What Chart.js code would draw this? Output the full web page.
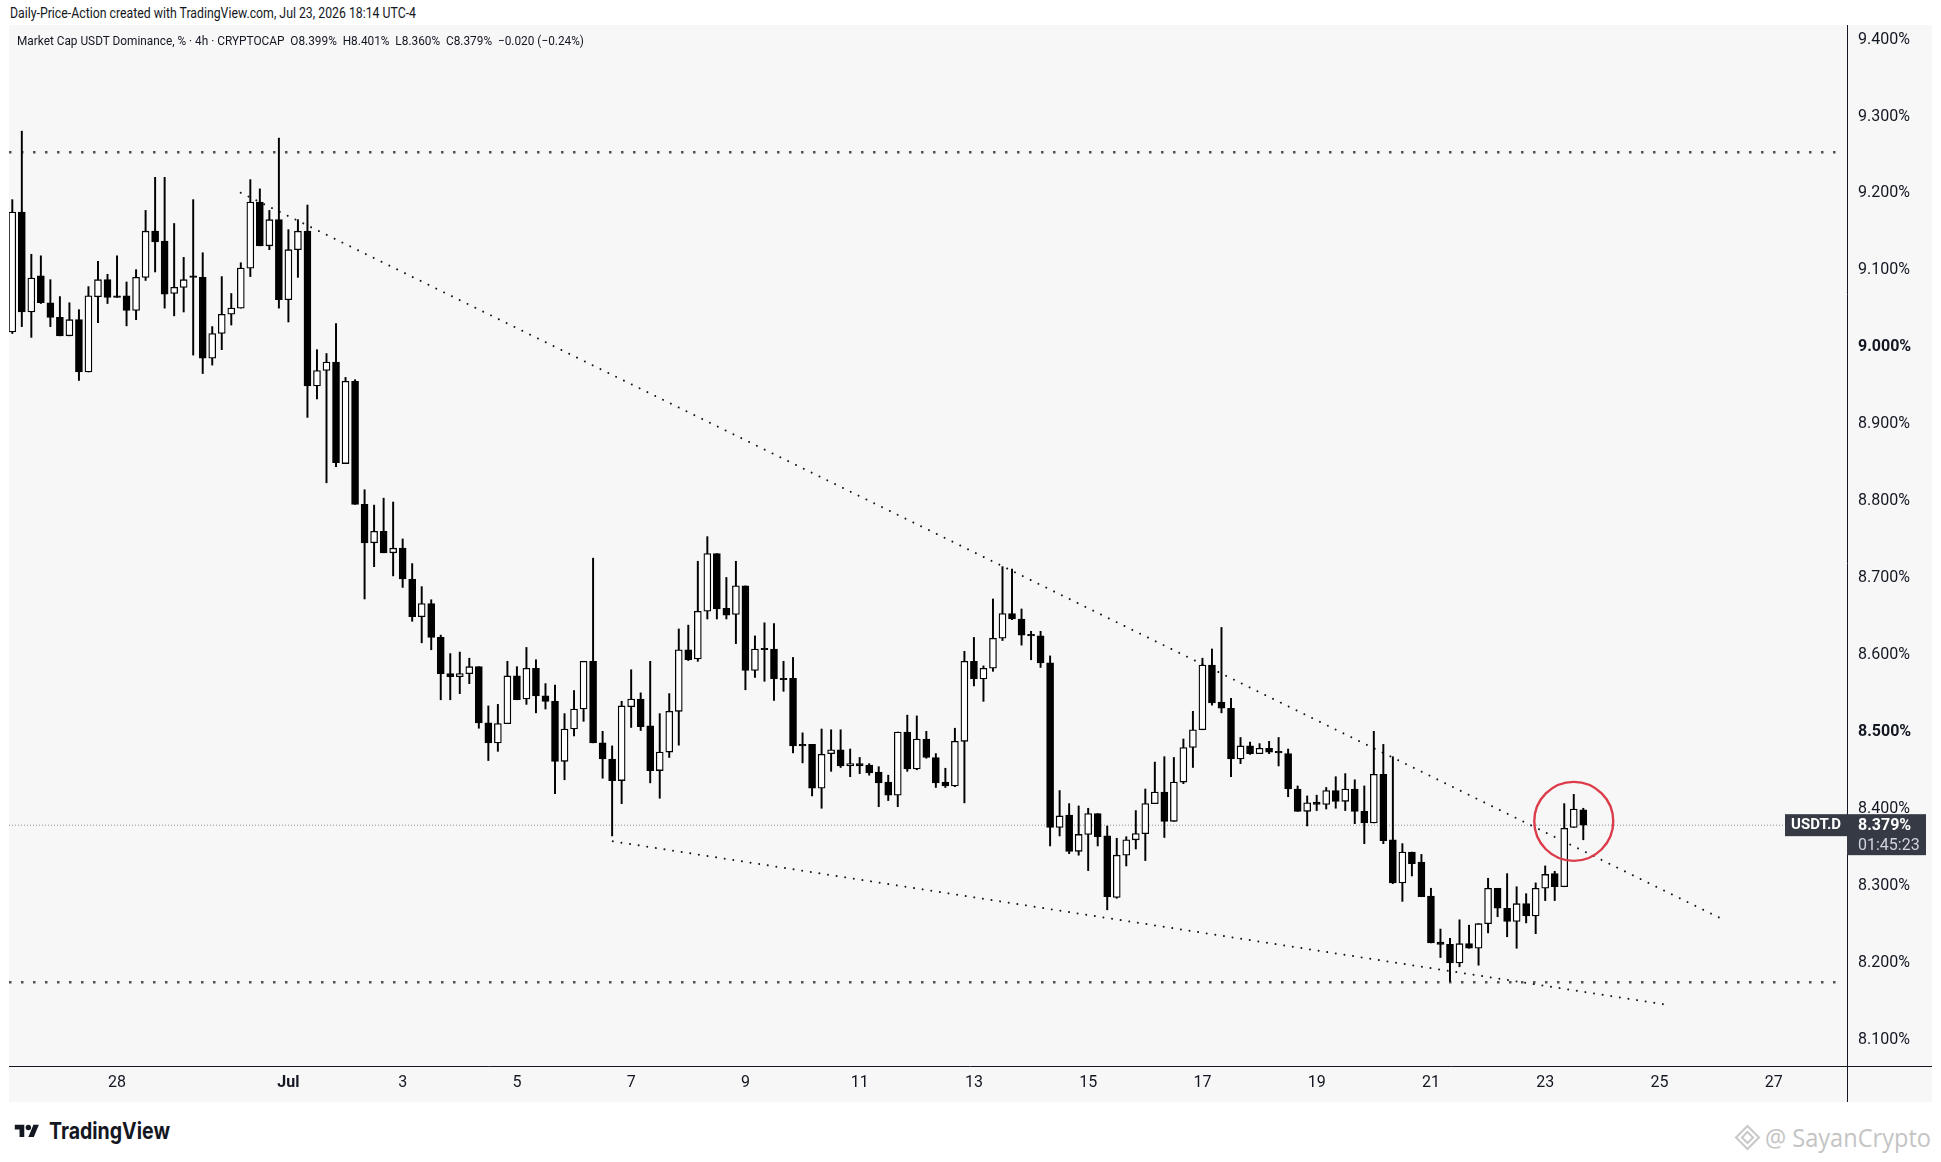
<!DOCTYPE html>
<html>
<head>
<meta charset="utf-8">
<script src="https://cdn.jsdelivr.net/npm/chart.js@4.4.1/dist/chart.umd.min.js"></script>
<style>
  html,body{margin:0;padding:0;background:#ffffff;}
  body{width:1941px;height:1162px;overflow:hidden;position:relative;font-family:Roboto,"Noto Sans",sans-serif;}
  #c{position:absolute;left:9px;top:25px;background:#f7f7f7;}
  .txt{position:absolute;white-space:nowrap;transform-origin:left center;color:#131722;}
</style>
</head>
<body>
<div id="hdr" class="txt" style="left:10px;top:5px;font-size:14px;line-height:17px;">Daily-Price-Action created with TradingView.com, Jul 23, 2026 18:14 UTC-4</div>
<canvas id="c" width="1923" height="1077"></canvas>
<div id="leg" class="txt" style="left:17px;top:33px;font-size:13px;line-height:16px;z-index:2;">Market Cap USDT Dominance, % · 4h · CRYPTOCAP&nbsp;&nbsp;O8.399%&nbsp;&nbsp;H8.401%&nbsp;&nbsp;L8.360%&nbsp;&nbsp;C8.379%&nbsp;&nbsp;−0.020 (−0.24%)</div>
<svg style="position:absolute;left:12px;top:1122px;" width="30" height="19" viewBox="0 0 36 28"><path d="M14 22H7V11H0V4h14v18zM28 22h-8l7.5-18h8L28 22z" fill="#131722"/><circle cx="20" cy="8" r="4" fill="#131722"/></svg>
<div id="tvl" class="txt" style="left:49px;top:1117px;font-size:23px;line-height:28px;font-weight:700;font-family:Inter,Roboto,sans-serif;">TradingView</div>
<svg style="position:absolute;left:1733px;top:1124px;" width="29" height="27" viewBox="0 0 29 27"><g fill="none" stroke="#c8c8c8" stroke-width="2"><path d="M14.5 2 L26 13.5 L14.5 25 L3 13.5 Z"/><path d="M14.5 8 L20 13.5 L14.5 19 L9 13.5 Z"/></g></svg>
<div id="wm" class="txt" style="left:1765px;top:1122px;font-size:25px;line-height:30px;color:#c4c4c4;font-family:'Open Sans',sans-serif;">@ SayanCrypto</div>

<script>
// ---- data (values in %), 4h candles, time in days relative to Jul 1 00:00 ----
const candleStartDay = -29/6;   // Jun 26 04:00
const candleHours = 4;
const opens = [
9.020,9.176,9.046,9.093,9.058,9.039,9.015,9.036,8.968,9.066,
9.088,9.066,9.067,9.048,9.091,9.151,9.138,9.070,9.078,9.092,
9.091,8.986,9.018,9.043,9.051,9.103,9.189,9.132,9.166,9.062,
9.127,9.151,8.950,8.970,8.981,8.849,8.956,8.796,8.746,8.761,
8.733,8.739,8.699,8.650,8.667,8.623,8.576,8.572,8.576,8.585,
8.512,8.486,8.511,8.573,8.543,8.583,8.547,8.540,8.462,8.504,
8.530,8.592,8.486,8.465,8.437,8.533,8.543,8.508,8.450,8.474,
8.527,8.607,8.595,8.657,8.732,8.661,8.653,8.690,8.580,8.608,
8.608,8.569,8.570,8.483,8.484,8.427,8.472,8.477,8.456,8.459,
8.457,8.448,8.435,8.418,8.500,8.452,8.491,8.467,8.435,8.430,
8.488,8.592,8.569,8.583,8.622,8.654,8.647,8.626,8.625,8.590,
8.376,8.392,8.345,8.367,8.394,8.365,8.285,8.340,8.360,8.368,
8.407,8.422,8.384,8.435,8.480,8.503,8.587,8.539,8.531,8.465,
8.482,8.472,8.479,8.474,8.472,8.426,8.397,8.409,8.406,8.424,
8.410,8.426,8.397,8.382,8.445,8.360,8.304,8.344,8.331,8.287,
8.227,8.224,8.200,8.225,8.219,8.251,8.297,8.271,8.254,8.277,
8.261,8.297,8.316,8.299,8.376,8.399];
const highs = [
9.192,9.281,9.121,9.119,9.088,9.066,9.058,9.049,9.079,9.112,
9.095,9.119,9.085,9.101,9.178,9.221,9.221,9.161,9.117,9.192,
9.123,9.027,9.092,9.070,9.110,9.218,9.206,9.178,9.272,9.153,
9.166,9.185,8.997,8.992,9.031,8.961,8.958,8.815,8.795,8.804,
8.799,8.751,8.719,8.689,8.672,8.626,8.602,8.604,8.596,8.585,
8.534,8.536,8.592,8.585,8.610,8.594,8.563,8.561,8.524,8.554,
8.592,8.726,8.501,8.482,8.540,8.581,8.551,8.592,8.524,8.550,
8.634,8.639,8.722,8.754,8.732,8.701,8.722,8.690,8.625,8.642,
8.641,8.592,8.597,8.499,8.484,8.504,8.503,8.503,8.478,8.467,
8.459,8.455,8.444,8.500,8.522,8.521,8.501,8.472,8.453,8.505,
8.605,8.623,8.586,8.673,8.715,8.712,8.660,8.631,8.631,8.599,
8.424,8.407,8.404,8.401,8.394,8.378,8.362,8.364,8.398,8.426,
8.461,8.468,8.467,8.491,8.527,8.596,8.608,8.636,8.544,8.493,
8.487,8.485,8.488,8.493,8.478,8.430,8.417,8.418,8.428,8.442,
8.446,8.438,8.430,8.501,8.484,8.468,8.355,8.344,8.341,8.297,
8.244,8.232,8.256,8.249,8.251,8.310,8.297,8.316,8.299,8.290,
8.304,8.326,8.319,8.407,8.419,8.401];
const lows = [
9.018,9.027,9.013,9.057,9.027,9.015,9.015,8.957,8.968,9.032,
9.057,9.065,9.028,9.036,9.087,9.098,9.051,9.041,9.046,8.990,
8.966,8.977,8.997,9.029,9.051,9.092,9.132,9.127,9.051,9.033,
9.091,8.909,8.933,8.824,8.845,8.849,8.796,8.673,8.715,8.733,
8.703,8.688,8.644,8.616,8.607,8.542,8.542,8.550,8.563,8.505,
8.463,8.475,8.511,8.542,8.536,8.525,8.530,8.420,8.438,8.495,
8.514,8.486,8.440,8.365,8.407,8.506,8.502,8.434,8.414,8.467,
8.483,8.593,8.592,8.647,8.647,8.647,8.615,8.555,8.571,8.566,
8.541,8.553,8.473,8.460,8.417,8.401,8.449,8.454,8.442,8.446,
8.444,8.403,8.411,8.403,8.449,8.451,8.466,8.428,8.428,8.429,
8.408,8.560,8.540,8.579,8.619,8.646,8.613,8.594,8.584,8.352,
8.365,8.342,8.340,8.320,8.352,8.269,8.284,8.326,8.348,8.333,
8.407,8.363,8.384,8.433,8.454,8.503,8.535,8.525,8.442,8.459,
8.471,8.472,8.472,8.456,8.416,8.397,8.378,8.398,8.400,8.401,
8.398,8.381,8.355,8.382,8.355,8.303,8.280,8.313,8.286,8.226,
8.207,8.176,8.195,8.219,8.197,8.239,8.260,8.234,8.219,8.252,
8.238,8.281,8.281,8.299,8.376,8.360];
const closes = [
9.176,9.046,9.090,9.058,9.039,9.015,9.036,8.968,9.067,9.088,
9.065,9.065,9.048,9.091,9.151,9.137,9.069,9.078,9.088,9.091,
8.986,9.018,9.043,9.051,9.103,9.189,9.132,9.166,9.062,9.127,
9.151,8.950,8.970,8.981,8.850,8.956,8.796,8.746,8.761,8.733,
8.739,8.699,8.650,8.667,8.623,8.576,8.572,8.576,8.585,8.512,
8.486,8.511,8.573,8.542,8.583,8.547,8.540,8.462,8.504,8.530,
8.592,8.486,8.465,8.437,8.534,8.543,8.507,8.450,8.474,8.527,
8.607,8.594,8.657,8.732,8.660,8.652,8.690,8.580,8.608,8.607,
8.569,8.568,8.482,8.482,8.427,8.471,8.477,8.456,8.459,8.456,
8.447,8.434,8.418,8.500,8.452,8.491,8.467,8.434,8.430,8.488,
8.592,8.569,8.583,8.622,8.654,8.647,8.626,8.625,8.590,8.376,
8.391,8.345,8.367,8.394,8.364,8.286,8.340,8.360,8.368,8.407,
8.422,8.384,8.435,8.480,8.503,8.587,8.538,8.531,8.465,8.482,
8.472,8.479,8.474,8.473,8.426,8.397,8.408,8.406,8.424,8.410,
8.426,8.397,8.382,8.445,8.359,8.304,8.344,8.329,8.286,8.226,
8.224,8.200,8.225,8.219,8.251,8.297,8.271,8.254,8.277,8.261,
8.297,8.315,8.299,8.375,8.400,8.379];

// axis ticks
const yTicks = [9.4,9.3,9.2,9.1,9.0,8.9,8.8,8.7,8.6,8.5,8.4,8.3,8.2,8.1];
const yBoldTicks = [9.0, 8.5];
const xTickDays = [-3,0,2,4,6,8,10,12,14,16,18,20,22,24,26];
const xTickLabels = ['28','Jul','3','5','7','9','11','13','15','17','19','21','23','25','27'];
const xBoldLabels = ['Jul'];

// drawings (day, value)
const upperTrendDays = [-0.835, 25.07];
const upperTrendValues = [9.201, 8.258];
const lowerTrendDays = [5.678, 24.096];
const lowerTrendValues = [8.358, 8.146];
const resistanceLevel = 9.2535;
const supportLevel = 8.175;
const levelEndDay = 27.125;
const circleDay = 22.50, circleValue = 8.384, circleRadiusPx = 39.5;
const lastClose = 8.379;
const symbolLabel = 'USDT.D';
const countdown = '01:45:23';

// view range
const xMin = -4.891, xMax = 27.283;
const yMin = 8.066, yMax = 9.419;

const times = opens.map((_, i) => candleStartDay + i * candleHours / 24);
const bodyColors = opens.map((o, i) => closes[i] >= o ? '#ffffff' : '#000000');

const overlay = {
  id: 'overlay',
  afterDraw(chart) {
    const {ctx, chartArea: a, scales: {x, y}} = chart;
    ctx.save();
    ctx.strokeStyle = '#131722';
    ctx.lineWidth = 1;
    ctx.setLineDash([]);
    const by = Math.round(a.bottom) + 0.5;
    ctx.beginPath(); ctx.moveTo(0, by); ctx.lineTo(chart.width, by); ctx.stroke();
    const rx = Math.round(a.right) + 0.5;
    ctx.beginPath(); ctx.moveTo(rx, 0); ctx.lineTo(rx, chart.height); ctx.stroke();

    // red circle
    ctx.strokeStyle = '#dc3c4a';
    ctx.lineWidth = 2.4;
    ctx.beginPath();
    ctx.arc(x.getPixelForValue(circleDay), y.getPixelForValue(circleValue), circleRadiusPx, 0, Math.PI * 2);
    ctx.stroke();

    // price labels
    const py = y.getPixelForValue(lastClose);
    ctx.fillStyle = '#363a45';
    ctx.fillRect(a.right - 62, py - 11, 62, 22);
    ctx.fillRect(a.right, py - 11, 79, 41);
    ctx.fillStyle = '#ffffff';
    ctx.textBaseline = 'middle';
    ctx.textAlign = 'center';
    ctx.font = 'bold 15px Roboto';
    ctx.fillText(symbolLabel, a.right - 31, py + 0.5);
    ctx.textAlign = 'left';
    ctx.font = 'bold 16px Roboto';
    ctx.fillText(lastClose.toFixed(3) + '%', a.right + 11, py + 0.5);
    ctx.fillStyle = '#d1d4dc';
    ctx.font = '16px Roboto';
    ctx.fillText(countdown, a.right + 11, py + 20.5);
    ctx.restore();
  }
};

function hLine(v, color, width, dash, cap) {
  return {type: 'line', data: [{x: xMin, y: v}, {x: levelEndDay, y: v}], borderColor: color,
    borderWidth: width, borderDash: dash, borderCapStyle: cap, pointRadius: 0, order: 3};
}

new Chart(document.getElementById('c'), {
  type: 'bar',
  data: {
    datasets: [
      {type: 'line', data: upperTrendDays.map((d, i) => ({x: d, y: upperTrendValues[i]})),
        borderColor: '#131722', borderWidth: 2, borderDash: [0.01, 8.7], borderCapStyle: 'round', pointRadius: 0, order: 3},
      {type: 'line', data: lowerTrendDays.map((d, i) => ({x: d, y: lowerTrendValues[i]})),
        borderColor: '#131722', borderWidth: 2, borderDash: [0.01, 8.7], borderCapStyle: 'round', pointRadius: 0, order: 3},
      hLine(resistanceLevel, '#505050', 2.5, [2.5, 9.5], 'butt'),
      hLine(supportLevel, '#505050', 2.5, [2.5, 9.5], 'butt'),
      {type: 'line', data: [{x: xMin, y: lastClose}, {x: xMax, y: lastClose}],
        borderColor: '#8a8d96', borderWidth: 1, borderDash: [1, 2], pointRadius: 0, order: 4},
      {type: 'bar', data: times.map((t, i) => ({x: t, y: [lows[i], highs[i]]})),
        backgroundColor: '#000000', barThickness: 1.3, grouped: false, order: 2},
      {type: 'bar', data: times.map((t, i) => ({x: t, y: [opens[i], closes[i]]})),
        backgroundColor: bodyColors, borderColor: '#000000', borderWidth: 1.3, borderSkipped: false,
        barThickness: 7, minBarLength: 1.5, grouped: false, order: 1}
    ]
  },
  options: {
    responsive: false,
    animation: false,
    events: [],
    layout: {padding: 0},
    plugins: {legend: {display: false}, tooltip: {enabled: false}},
    scales: {
      x: {
        type: 'linear', min: xMin, max: xMax, offset: false,
        grid: {display: false, drawTicks: false}, border: {display: false},
        afterBuildTicks: s => { s.ticks = xTickDays.map(v => ({value: v})); },
        afterFit: s => { s.height = 36; s.paddingLeft = 0; s.paddingRight = 0; s.paddingTop = 0; s.paddingBottom = 0; },
        ticks: {
          autoSkip: false, maxRotation: 0, minRotation: 0, padding: 7, color: '#131722',
          font: c => ({family: 'Roboto', size: 16, weight: (c.tick && xBoldLabels.includes(xTickLabels[xTickDays.indexOf(c.tick.value)])) ? 'bold' : 'normal'}),
          callback: (v, i) => xTickLabels[i]
        }
      },
      y: {
        type: 'linear', position: 'right', min: yMin, max: yMax,
        grid: {display: false, drawTicks: false}, border: {display: false},
        afterBuildTicks: s => { s.ticks = yTicks.map(v => ({value: v})); },
        afterFit: s => { s.width = 85; s.paddingTop = 0; s.paddingBottom = 0; s.paddingLeft = 0; s.paddingRight = 0; },
        ticks: {
          padding: 11, color: '#131722',
          font: c => ({family: 'Roboto', size: 16, weight: (c.tick && yBoldTicks.some(b => Math.abs(b - c.tick.value) < 1e-6)) ? 'bold' : 'normal'}),
          callback: v => Number(v).toFixed(3) + '%'
        }
      }
    }
  },
  plugins: [overlay]
});

function fit(id, w) {
  const el = document.getElementById(id);
  const r = el.getBoundingClientRect().width;
  if (r > 0) el.style.transform = 'scaleX(' + (w / r) + ')';
}
fit('hdr', 406);
fit('leg', 567);
fit('tvl', 121);
fit('wm', 166);
</script>
</body>
</html>
